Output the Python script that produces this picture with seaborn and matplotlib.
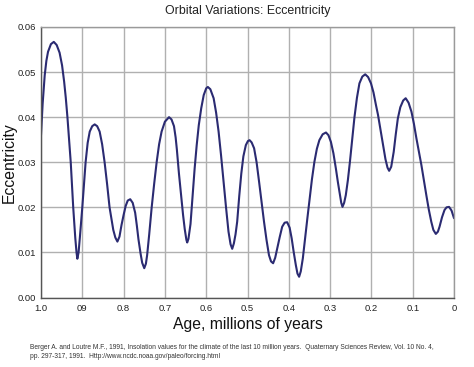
import matplotlib
matplotlib.use("Agg")
import matplotlib.pyplot as plt
import seaborn as sns
import pandas as pd

# Age (millions of years) and eccentricity
age = [1.000, 0.996, 0.991, 0.987, 0.983, 0.976, 0.969, 0.962, 0.955, 0.949,
       0.944, 0.940, 0.936, 0.928, 0.922, 0.917, 0.914, 0.912, 0.909, 0.906,
       0.900, 0.892, 0.887, 0.882, 0.876, 0.870, 0.864, 0.858, 0.852, 0.846,
       0.840, 0.834, 0.829, 0.825, 0.820, 0.815, 0.810, 0.805, 0.800, 0.795,
       0.790, 0.784, 0.778, 0.772, 0.768, 0.764, 0.759, 0.755, 0.750, 0.746,
       0.743, 0.738, 0.732, 0.726, 0.720, 0.714, 0.708, 0.700, 0.690, 0.684,
       0.678, 0.674, 0.671, 0.666, 0.660, 0.656, 0.652, 0.648, 0.646, 0.643,
       0.638, 0.633, 0.628, 0.623, 0.618, 0.612, 0.606, 0.600, 0.596, 0.590,
       0.582, 0.576, 0.570, 0.564, 0.558, 0.552, 0.546, 0.541, 0.537, 0.533,
       0.529, 0.525, 0.520, 0.515, 0.510, 0.504, 0.499, 0.495, 0.490, 0.484,
       0.478, 0.472, 0.466, 0.460, 0.454, 0.448, 0.443, 0.438, 0.433, 0.428,
       0.422, 0.416, 0.410, 0.404, 0.398, 0.393, 0.388, 0.383, 0.379, 0.375,
       0.371, 0.366, 0.361, 0.355, 0.350, 0.344, 0.338, 0.332, 0.326, 0.318,
       0.310, 0.304, 0.298, 0.292, 0.286, 0.281, 0.276, 0.273, 0.270, 0.266,
       0.262, 0.257, 0.252, 0.246, 0.241, 0.235, 0.229, 0.222, 0.215, 0.208,
       0.201, 0.195, 0.189, 0.184, 0.178, 0.172, 0.166, 0.161, 0.157, 0.152,
       0.146, 0.141, 0.136, 0.130, 0.123, 0.117, 0.110, 0.103, 0.097, 0.091,
       0.085, 0.079, 0.073, 0.067, 0.061, 0.055, 0.050, 0.044, 0.039, 0.035,
       0.029, 0.023, 0.018, 0.012, 0.006, 0.000]
ecc = [0.0360, 0.0430, 0.0493, 0.0525, 0.0545, 0.0562, 0.0567, 0.0560, 0.0543, 0.0515,
       0.0479, 0.0443, 0.0400, 0.0300, 0.0200, 0.0132, 0.0100, 0.0086, 0.0100, 0.0132,
       0.0200, 0.0300, 0.0343, 0.0368, 0.0380, 0.0384, 0.0380, 0.0368, 0.0340, 0.0300,
       0.0252, 0.0200, 0.0172, 0.0150, 0.0133, 0.0124, 0.0135, 0.0161, 0.0183, 0.0203,
       0.0215, 0.0218, 0.0210, 0.0188, 0.0160, 0.0129, 0.0098, 0.0077, 0.0065, 0.0075,
       0.0094, 0.0140, 0.0200, 0.0252, 0.0300, 0.0340, 0.0368, 0.0390, 0.0400, 0.0395,
       0.0380, 0.0355, 0.0328, 0.0275, 0.0220, 0.0183, 0.0152, 0.0128, 0.0122, 0.0130,
       0.0163, 0.0225, 0.0286, 0.0338, 0.0382, 0.0420, 0.0449, 0.0464, 0.0467, 0.0462,
       0.0442, 0.0410, 0.0368, 0.0315, 0.0257, 0.0200, 0.0146, 0.0118, 0.0108, 0.0120,
       0.0140, 0.0168, 0.0225, 0.0275, 0.0313, 0.0338, 0.0347, 0.0349, 0.0344, 0.0331,
       0.0300, 0.0257, 0.0212, 0.0168, 0.0128, 0.0094, 0.0080, 0.0076, 0.0088, 0.0109,
       0.0134, 0.0157, 0.0166, 0.0167, 0.0155, 0.0131, 0.0100, 0.0072, 0.0053, 0.0046,
       0.0058, 0.0087, 0.0128, 0.0176, 0.0215, 0.0262, 0.0301, 0.0330, 0.0349, 0.0362,
       0.0366, 0.0360, 0.0345, 0.0320, 0.0286, 0.0255, 0.0227, 0.0210, 0.0201, 0.0210,
       0.0227, 0.0260, 0.0301, 0.0355, 0.0400, 0.0443, 0.0475, 0.0490, 0.0495, 0.0489,
       0.0475, 0.0455, 0.0427, 0.0405, 0.0372, 0.0338, 0.0307, 0.0288, 0.0281, 0.0290,
       0.0323, 0.0362, 0.0397, 0.0422, 0.0437, 0.0442, 0.0432, 0.0412, 0.0385, 0.0353,
       0.0324, 0.0294, 0.0260, 0.0227, 0.0195, 0.0168, 0.0150, 0.0141, 0.0146, 0.0157,
       0.0178, 0.0194, 0.0200, 0.0201, 0.0193, 0.0176]

x_ticks = [1.0, 0.9, 0.8, 0.7, 0.6, 0.5, 0.4, 0.3, 0.2, 0.1, 0.0]
x_tick_labels = ["1.0", "09", "0.8", "0.7", "0.6", "0.5", "0.4", "0.3", "0.2", "0.1", "0"]
y_ticks = [0.00, 0.01, 0.02, 0.03, 0.04, 0.05, 0.06]
y_tick_labels = ["0.00", "0.01", "0.02", "0.03", "0.04", "0.05", "0.06"]

title = "Orbital Variations: Eccentricity"
xlabel = "Age, millions of years"
ylabel = "Eccentricity"
citation = ("Berger A. and Loutre M.F., 1991, Insolation values for the climate of the last 10 million years.  "
            "Quaternary Sciences Review, Vol. 10 No. 4,\n"
            "pp. 297-317, 1991.  Http://www.ncdc.noaa.gov/paleo/forcing.html")

sns.set_style("whitegrid")
plt.rcParams["font.family"] = ["Liberation Sans", "DejaVu Sans"]

df = pd.DataFrame({"age": age, "ecc": ecc})

fig = plt.figure(figsize=(4.74, 3.67), dpi=100)
ax = fig.add_axes([41 / 474, 1 - 297.5 / 367, (454 - 41) / 474, (297.5 - 27) / 367])

sns.lineplot(data=df, x="age", y="ecc", sort=False, color="#2b2b72", linewidth=1.5, ax=ax)

ax.set_xlim(1.0, 0.0)
ax.set_ylim(0.0, 0.06)
ax.set_xticks(x_ticks)
ax.set_xticklabels(x_tick_labels, fontsize=6.8, color="#222222")
ax.set_yticks(y_ticks)
ax.set_yticklabels(y_tick_labels, fontsize=6.8, color="#222222")
ax.grid(True, color="#b0b0b0", linewidth=1.0)
ax.tick_params(axis="both", length=2, width=0.8, color="#666666")
ax.tick_params(axis="x", pad=3)
ax.tick_params(axis="y", pad=1.5)
for side, sp in ax.spines.items():
    sp.set_visible(True)
    sp.set_linewidth(1.0)
    sp.set_color("#9a9a9a" if side in ("top", "right") else "#555555")

ax.set_xlabel(xlabel, fontsize=11.3, color="#111111")
ax.set_ylabel(ylabel, fontsize=11.3, color="#111111")
ax.xaxis.set_label_coords(0.5, (297.5 - 317) / 270.5)
ax.yaxis.set_label_coords((17 - 41) / 413, 0.5)
fig.text(248 / 474, 1 - 11 / 367, title, ha="center", va="center", fontsize=8.9, color="#222222")
fig.text(30 / 474, 1 - 352 / 367, citation, ha="left", va="center", fontsize=4.8,
         color="#333333", linespacing=1.4)

fig.savefig("out.png", dpi=100, facecolor="white")
